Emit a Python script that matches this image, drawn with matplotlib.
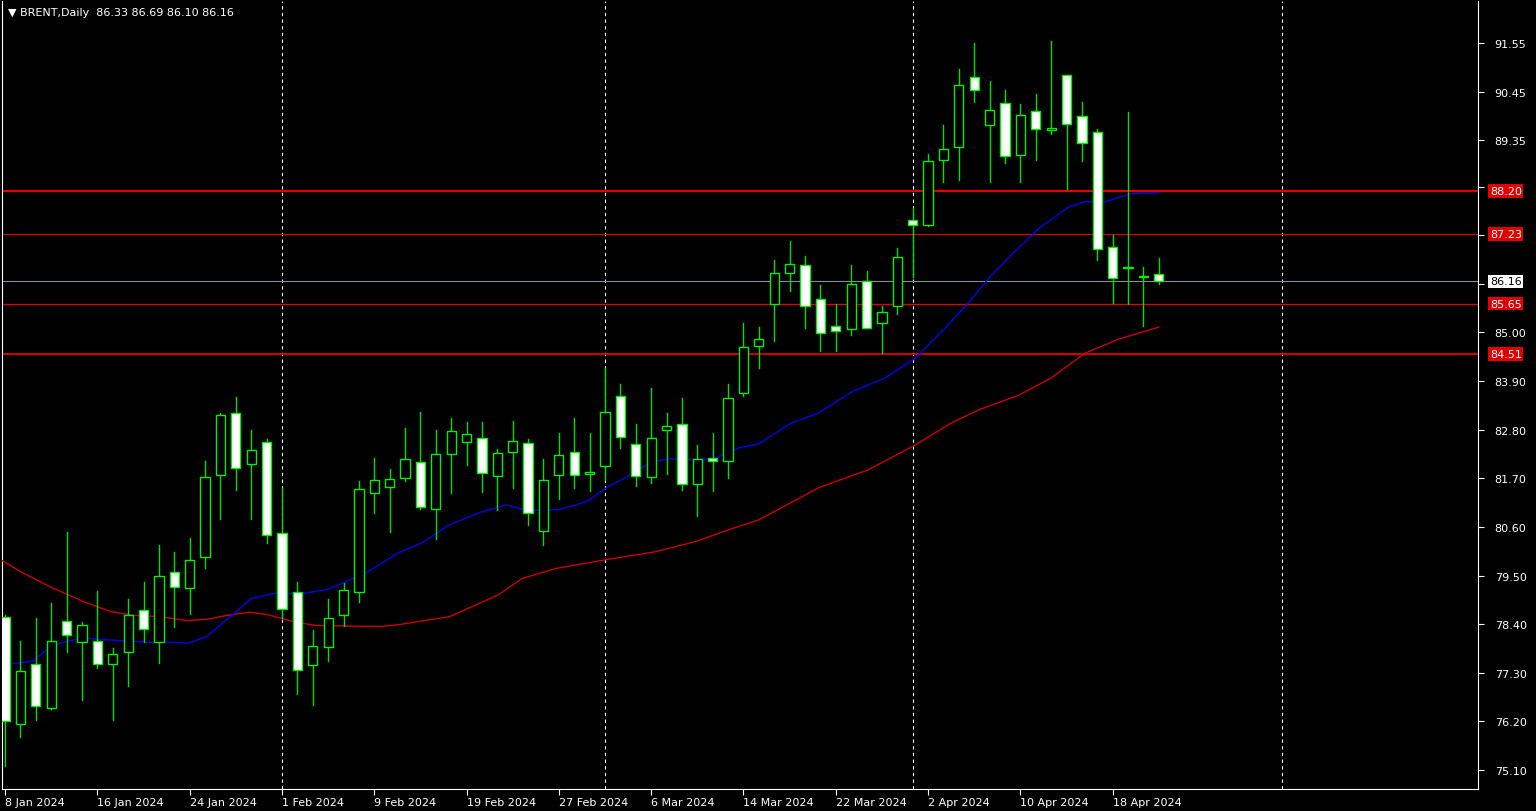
import matplotlib
matplotlib.use("Agg")
import matplotlib.pyplot as plt
import pandas as pd

# Daily OHLC, BRENT, 8 Jan 2024 onward (bar index = position)
opens = [78.57, 76.14, 77.49, 76.50, 78.48, 77.99, 78.03, 77.49, 77.78, 78.73,
         77.99, 79.57, 79.21, 79.93, 81.78, 83.18, 82.03, 82.52, 80.47, 79.12,
         77.47, 77.88, 78.60, 79.12, 81.37, 81.51, 81.71, 82.07, 81.01, 82.25,
         82.52, 82.61, 81.75, 82.30, 82.50, 80.51, 81.78, 82.30, 81.80, 81.98,
         83.56, 82.48, 81.73, 82.79, 82.93, 81.57, 82.16, 82.09, 83.63, 84.69,
         85.64, 86.34, 86.52, 85.75, 85.14, 85.07, 86.16, 85.21, 85.59, 87.55,
         87.44, 88.91, 89.20, 90.78, 89.70, 90.20, 89.02, 90.02, 89.59, 90.82,
         89.90, 89.54, 86.94, 86.45, 86.25, 86.33]
highs = [78.60, 78.03, 78.53, 78.87, 80.49, 78.44, 79.14, 77.85, 78.96, 79.36,
         80.18, 80.04, 80.36, 82.09, 83.18, 83.54, 82.79, 82.59, 81.48, 79.36,
         78.26, 78.98, 79.34, 81.64, 82.16, 81.91, 82.84, 83.20, 82.79, 83.06,
         82.97, 82.97, 82.36, 83.00, 82.59, 82.14, 82.73, 83.06, 82.73, 84.19,
         83.83, 82.93, 83.74, 83.18, 83.52, 82.45, 82.72, 83.83, 85.21, 85.12,
         86.63, 87.08, 86.72, 86.07, 85.64, 86.52, 86.38, 85.61, 86.92, 87.82,
         89.04, 89.70, 90.96, 91.55, 90.69, 90.49, 90.17, 90.40, 91.60, 90.82,
         90.22, 89.61, 87.21, 89.99, 86.47, 86.69]
lows = [75.19, 75.84, 76.23, 76.48, 77.78, 76.68, 77.40, 76.23, 76.99, 77.99,
        77.51, 78.33, 78.64, 79.68, 80.79, 81.44, 80.79, 80.24, 78.55, 76.81,
        76.57, 77.56, 78.35, 78.89, 80.92, 80.49, 81.64, 81.01, 80.33, 81.37,
        82.00, 81.39, 80.99, 81.48, 80.65, 80.18, 81.24, 81.48, 81.42, 81.66,
        82.39, 81.53, 81.60, 81.80, 81.44, 80.85, 81.42, 81.71, 83.56, 84.19,
        84.80, 85.93, 85.10, 84.58, 84.58, 84.94, 85.10, 84.53, 85.41, 86.25,
        87.42, 88.41, 88.46, 90.22, 88.41, 88.84, 88.41, 88.91, 89.49, 88.25,
        88.88, 86.65, 85.66, 85.64, 85.14, 86.10]
closes = [76.21, 77.33, 76.54, 78.03, 78.15, 78.37, 77.49, 77.72, 78.60, 78.28,
          79.50, 79.25, 79.86, 81.73, 83.13, 81.94, 82.34, 80.42, 78.75, 77.36,
          77.90, 78.53, 79.18, 81.46, 81.66, 81.69, 82.14, 81.06, 82.25, 82.77,
          82.70, 81.82, 82.27, 82.54, 80.92, 81.66, 82.23, 81.78, 81.85, 83.20,
          82.63, 81.75, 82.61, 82.88, 81.57, 82.14, 82.09, 83.52, 84.67, 84.85,
          86.34, 86.56, 85.61, 84.98, 85.03, 86.09, 85.10, 85.46, 86.70, 87.44,
          88.88, 89.14, 90.60, 90.49, 90.04, 89.00, 89.92, 89.61, 89.63, 89.72,
          89.29, 86.88, 86.23, 86.47, 86.27, 86.16]

# moving averages (bar position, price)
ma_fast_pos = [0, 1.8, 2.9, 4.0, 5.1, 7.3, 9.4, 10.9, 11.9, 13.1, 14.8, 16.0, 17.8, 18.9,
               20.9, 21.9, 23.5, 25.6, 27.1, 28.9, 30.8, 32.6, 33.9, 36.0, 37.8, 39.1,
               40.4, 42.0, 43.2, 44.6, 46.2, 47.7, 49.0, 51.1, 52.9, 55.0, 57.2, 59.2,
               61.1, 62.6, 64.1, 65.9, 67.2, 69.1, 70.2, 71.5, 73.2, 75.0]
ma_fast = [77.49, 77.56, 77.88, 78.01, 78.08, 78.03, 77.99, 77.99, 77.97, 78.12, 78.62,
           78.98, 79.12, 79.07, 79.18, 79.32, 79.57, 80.02, 80.24, 80.65, 80.92, 81.10,
           80.97, 80.99, 81.17, 81.49, 81.73, 82.07, 82.14, 82.12, 82.16, 82.39, 82.48,
           82.95, 83.18, 83.65, 83.97, 84.42, 85.10, 85.66, 86.29, 86.92, 87.35, 87.83,
           87.96, 87.96, 88.14, 88.16]
ma_slow_pos = [-0.3, 1.0, 2.9, 5.1, 6.8, 8.3, 10.1, 11.8, 13.1, 14.8, 15.9, 17.0, 18.7,
               20.2, 23.5, 24.5, 25.6, 28.9, 32.1, 33.6, 35.8, 39.1, 42.3, 44.9, 46.9,
               49.0, 52.9, 56.1, 59.2, 61.5, 63.3, 65.9, 68.0, 70.2, 72.4, 75.0]
ma_slow = [79.86, 79.59, 79.25, 78.91, 78.69, 78.60, 78.57, 78.48, 78.51, 78.62, 78.67,
           78.62, 78.46, 78.37, 78.35, 78.35, 78.39, 78.57, 79.07, 79.43, 79.66, 79.86,
           80.04, 80.27, 80.52, 80.76, 81.49, 81.89, 82.46, 82.95, 83.25, 83.58, 83.97,
           84.53, 84.85, 85.12]

levels = [88.20, 87.23, 85.65, 84.51]
level_widths = [1.6, 0.8, 1.0, 1.3]
bid = 86.16
price_ticks = [75.10, 76.20, 77.30, 78.40, 79.50, 80.60, 81.70, 82.80, 83.90, 85.00,
               86.10, 87.20, 88.30, 89.35, 90.45, 91.55]
price_tick_labels = ["75.10", "76.20", "77.30", "78.40", "79.50", "80.60", "81.70",
                     "82.80", "83.90", "85.00", "", "", "", "89.35", "90.45", "91.55"]

dates = [d for d in pd.bdate_range("2024-01-08", periods=110) if d != pd.Timestamp("2024-03-29")]
n = len(opens)

fig = plt.figure(figsize=(15.36, 8.12), dpi=100, facecolor="black")
ax = fig.add_axes([2 / 1536, 22 / 812, 1476 / 1536, 788 / 812], facecolor="black")
ax.set_xlim(-0.2, 95.75)
ax.set_ylim(74.67, 92.50)

# month separators
for i, d in enumerate(dates[:90]):
    if i > 0 and d.month != dates[i - 1].month:
        ax.axvline(i + 2 if d.month == 5 else i, color="white", ls=(0, (3, 3)), lw=0.8, zorder=1)

for lv, lw in zip(levels, level_widths):
    ax.axhline(lv, color="#e00000", lw=lw, zorder=2)
ax.axhline(bid, color="#8090a0", lw=0.8, zorder=2)

ax.plot(ma_slow_pos, ma_slow, color="#cc0000", lw=1, zorder=3)
ax.plot(ma_fast_pos, ma_fast, color="#0000ee", lw=1, zorder=3)

w = 0.6
for i in range(n):
    o, h, l, c = opens[i], highs[i], lows[i], closes[i]
    ax.plot([i, i], [l, h], color="#00dd00", lw=1, zorder=4)
    bear = c < o
    lo, hi = min(o, c), max(o, c)
    ax.add_patch(plt.Rectangle((i - w / 2, lo), w, max(hi - lo, 0.02),
                               facecolor="white" if bear else "black",
                               edgecolor="#00ee00", lw=1, zorder=5))

# axes styling
for s in ax.spines.values():
    s.set_color("white")
ax.spines["top"].set_visible(False)
ax.yaxis.tick_right()
ax.set_yticks(price_ticks)
ax.set_yticklabels(price_tick_labels)
ax.tick_params(axis="y", colors="white", labelsize=8, length=4, pad=8)
lbl_idx = list(range(0, n, 6))
ax.set_xticks(lbl_idx)
ax.set_xticklabels([f"{dates[i].day} {dates[i]:%b %Y}" for i in lbl_idx], ha="left")
ax.tick_params(axis="x", colors="white", labelsize=8, length=4, pad=2)

for lv in levels:
    ax.text(1.008, lv, f"{lv:.2f}", transform=ax.get_yaxis_transform(), va="center",
            ha="left", fontsize=8, color="white",
            bbox=dict(boxstyle="square,pad=0.15", fc="#e00000", ec="none"))
ax.text(1.008, bid, f"{bid:.2f}", transform=ax.get_yaxis_transform(), va="center",
        ha="left", fontsize=8, color="black",
        bbox=dict(boxstyle="square,pad=0.15", fc="white", ec="none"))

ax.text(0.004, 0.992, f"\u25BC BRENT,Daily  {opens[-1]:.2f} {highs[-1]:.2f} {lows[-1]:.2f} {closes[-1]:.2f}",
        transform=ax.transAxes, va="top", ha="left", fontsize=8, color="white")

fig.savefig("out.png", dpi=100, facecolor="black")
